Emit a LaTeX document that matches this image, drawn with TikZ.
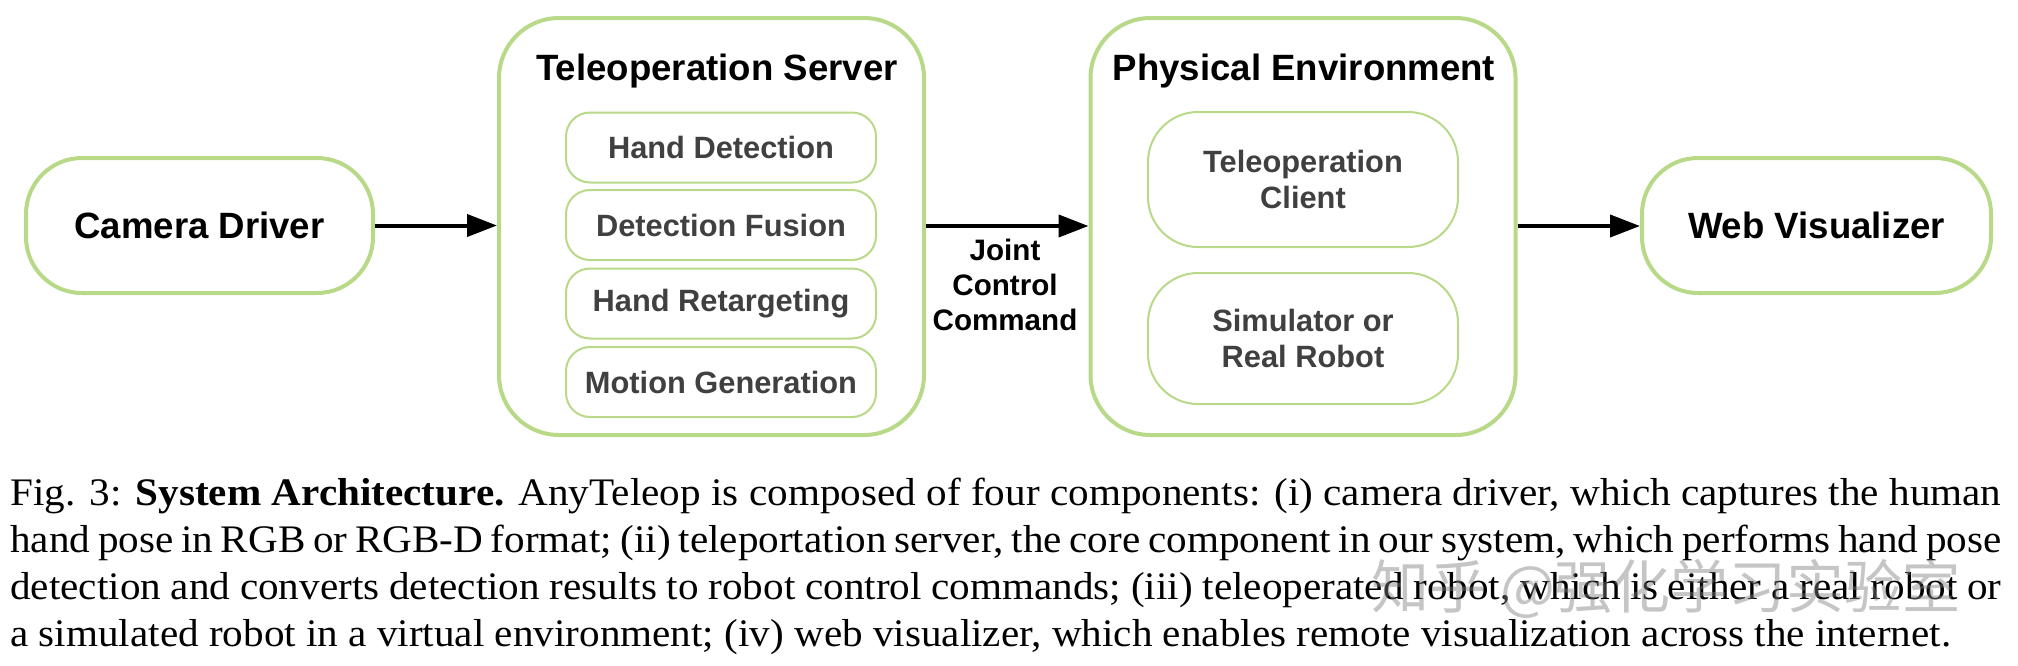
\documentclass[tikz,border=0pt]{standalone}
\usepackage{fontspec}
\setmainfont{Liberation Serif}
\newfontfamily\capfont{Liberation Serif}[FakeStretch=1.055]
\newfontfamily\dfont{Liberation Sans}
\newfontfamily\cjk{Noto Sans CJK SC}
\usetikzlibrary{arrows.meta}
\definecolor{boxgreen}{RGB}{184,218,136}
\definecolor{innertext}{RGB}{64,64,64}
\tikzset{
  bigbox/.style={draw=boxgreen, line width=2pt, rounded corners=28pt, align=center,
    font=\dfont\bfseries\fontsize{18.3}{22}\selectfont, minimum width=173.5pt, minimum height=67.5pt, inner sep=0pt},
  groupbox/.style={draw=boxgreen, line width=2pt, rounded corners=30pt,
    minimum width=212.5pt, minimum height=208.5pt, inner sep=0pt},
  grouptitle/.style={font=\dfont\bfseries\fontsize{18.3}{22}\selectfont, inner sep=0pt},
  smallbox/.style={draw=boxgreen, line width=1pt, rounded corners=12pt, align=center,
    text=innertext, font=\dfont\bfseries\fontsize{15.4}{18}\selectfont,
    minimum width=155pt, minimum height=35pt, inner sep=0pt},
  tallbox/.style={smallbox, rounded corners=25pt, minimum height=67pt},
  flow/.style={line width=2pt, -{Triangle[length=15pt,width=11pt]}},
  flowlabel/.style={font=\dfont\bfseries\fontsize{14.8}{17.4}\selectfont, align=center, inner sep=0pt},
  capline/.style={anchor=base west, inner sep=0pt, font=\capfont\fontsize{19.5}{23.25}\selectfont}
}
\begin{document}
\begin{tikzpicture}[x=0.5pt, y=-0.5pt]
\useasboundingbox[fill=white] (0,0) rectangle (2018,665);

% left and right end nodes
\node[bigbox] (cam) at (199.5,225.5) {Camera Driver};
\node[bigbox, minimum width=174.5pt] (web) at (1816.5,225.5) {Web Visualizer};

% teleoperation server
\node[groupbox] (srv) at (711.5,226.5) {};
\node[grouptitle] (srvt) at (717,71) {Teleoperation Server};
\node[smallbox] (hd) at (721,147.5) {Hand Detection};
\node[smallbox] (df) at (721,225) {Detection Fusion};
\node[smallbox] (hr) at (721,303.5) {Hand Retargeting};
\node[smallbox] (mg) at (721,382) {Motion Generation};

% physical environment
\node[groupbox] (env) at (1303,226.5) {};
\node[grouptitle] (envt) at (1304,71) {Physical Environment};
\node[tallbox, minimum height=67.5pt] (cli) at (1303,179.5) {Teleoperation\\Client};
\node[tallbox, minimum height=65.5pt] (sim) at (1303,338.5) {Simulator or\\Real Robot};

% connectors
\draw[flow] (cam.east) -- (cam.east -| srv.west);
\draw[flow] (srv.east |- 0,226) coordinate (a2s) -- (a2s -| env.west);
\draw[flow] (env.east |- 0,226) coordinate (a3s) -- (a3s -| web.west);
\node[flowlabel] (jcc) at (1005,285) {Joint\\Control\\Command};

% caption
\node[capline] (c1) at (10,505) {\makebox[995.5pt][s]{Fig. 3: \textbf{System Architecture.} AnyTeleop is composed of four components: (i) camera driver, which captures the human}};
\node[capline] (c2) at (10,552) {\makebox[995.5pt][s]{hand pose in RGB or RGB-D format; (ii) teleportation server, the core component in our system, which performs hand pose}};
\node[capline] (c3) at (10,599) {\makebox[995.5pt][s]{detection and converts detection results to robot control commands; (iii) teleoperated robot, which is either a real robot or}};
\node[capline] (c4) at (10,646) {a simulated robot in a virtual environment; (iv) web visualizer, which enables remote visualization across the internet.};

% watermark
\node[inner sep=0pt, text=gray, opacity=0.45, font=\cjk\fontsize{29}{30}\selectfont] (wm) at (1666,589) {知乎 @强化学习实验室};
\end{tikzpicture}
\end{document}
